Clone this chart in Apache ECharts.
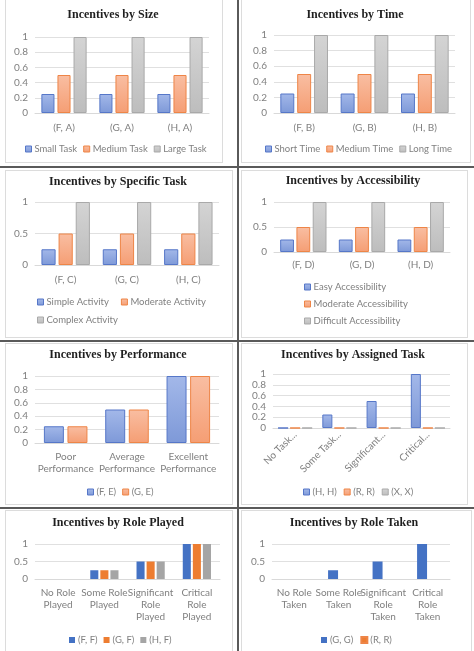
<!DOCTYPE html>
<html><head><meta charset="utf-8">
<script src="https://cdn.jsdelivr.net/npm/echarts@6/dist/echarts.min.js"></script>
<style>
html,body{margin:0;padding:0;background:#fff;overflow:hidden;}
#chart{position:absolute;left:0;top:0;width:474px;height:651px;}
.line{position:absolute;background:#5a5a5a;pointer-events:none;}
.box{position:absolute;border:1px solid #dcdcdc;pointer-events:none;box-sizing:border-box;}
</style></head><body>
<div class="box" style="left:5px;top:-2px;width:218px;height:165px"></div>
<div class="box" style="left:241px;top:-2px;width:230px;height:165px"></div>
<div class="box" style="left:5px;top:170px;width:228px;height:168px"></div>
<div class="box" style="left:241px;top:170px;width:227px;height:168px"></div>
<div class="box" style="left:5px;top:343px;width:228px;height:162px"></div>
<div class="box" style="left:241px;top:343px;width:227px;height:162px"></div>
<div class="box" style="left:5px;top:510px;width:228px;height:145px"></div>
<div class="box" style="left:241px;top:510px;width:231px;height:145px"></div>
<div id="chart"></div>
<div class="line" style="left:237px;top:0;width:1.5px;height:651px"></div>
<div class="line" style="left:0;top:166px;width:474px;height:1.5px"></div>
<div class="line" style="left:0;top:340px;width:474px;height:1.5px"></div>
<div class="line" style="left:0;top:507px;width:474px;height:1.5px"></div>
<script>
// ---- data ----
const sizeCategories = ['(F, A)', '(G, A)', '(H, A)'];
const sizeSmallTask = [0.25, 0.25, 0.25];
const sizeMediumTask = [0.5, 0.5, 0.5];
const sizeLargeTask = [1, 1, 1];

const timeCategories = ['(F, B)', '(G, B)', '(H, B)'];
const timeShort = [0.25, 0.25, 0.25];
const timeMedium = [0.5, 0.5, 0.5];
const timeLong = [1, 1, 1];

const taskCategories = ['(F, C)', '(G, C)', '(H, C)'];
const taskSimple = [0.25, 0.25, 0.25];
const taskModerate = [0.5, 0.5, 0.5];
const taskComplex = [1, 1, 1];

const accessCategories = ['(F, D)', '(G, D)', '(H, D)'];
const accessEasy = [0.25, 0.25, 0.25];
const accessModerate = [0.5, 0.5, 0.5];
const accessDifficult = [1, 1, 1];

const perfCategories = ['Poor\nPerformance', 'Average\nPerformance', 'Excellent\nPerformance'];
const perfFE = [0.25, 0.5, 1];
const perfGE = [0.25, 0.5, 1];

const assignCategories = ['No Task...', 'Some Task...', 'Significant...', 'Critical...'];
const assignHH = [0, 0.25, 0.5, 1];
const assignRR = [0, 0, 0, 0];
const assignXX = [0, 0, 0, 0];

const playedCategories = ['No Role\nPlayed', 'Some Role\nPlayed', 'Significant\nRole\nPlayed', 'Critical\nRole\nPlayed'];
const playedFF = [0, 0.25, 0.5, 1];
const playedGF = [0, 0.25, 0.5, 1];
const playedHF = [0, 0.25, 0.5, 1];

const takenCategories = ['No Role\nTaken', 'Some Role\nTaken', 'Significant\nRole\nTaken', 'Critical\nRole\nTaken'];
const takenGG = [0, 0.25, 0.5, 1];
const takenRR = [0, 0, 0, 0];

const titles = ['Incentives by Size', 'Incentives by Time', 'Incentives by Specific Task', 'Incentives by Accessibility',
  'Incentives by Performance', 'Incentives by Assigned Task', 'Incentives by Role Played', 'Incentives by Role Taken'];

// ---- styles ----
function grad(a, b) {
  return { type: 'linear', x: 0, y: 0, x2: 0, y2: 1, colorStops: [{ offset: 0, color: a }, { offset: 1, color: b }] };
}
const G_BLUE = { color: grad('#a3b8e9', '#7e99d8'), borderColor: '#5677c8', borderWidth: 1 };
const G_ORANGE = { color: grad('#f9bea2', '#f59e74'), borderColor: '#ee8547', borderWidth: 1 };
const G_GRAY = { color: grad('#d4d4d4', '#bdbdbd'), borderColor: '#a9a9a9', borderWidth: 1 };
const S_BLUE = { color: '#4472C4' };
const S_ORANGE = { color: '#ED7D31' };
const S_GRAY = { color: '#A5A5A5' };

const FONT = 'Lato';
const LABEL_COLOR = '#808080';

const panels = [
  { cats: sizeCategories, grid: [35, 37, 174, 76], interval: 0.2, title: [113, 9], margin: 9, gapC: '22%', gap: '23%',
    series: [['Small Task', sizeSmallTask, G_BLUE], ['Medium Task', sizeMediumTask, G_ORANGE], ['Large Task', sizeLargeTask, G_GRAY]] },
  { cats: timeCategories, grid: [274, 35, 181, 78], interval: 0.2, title: [355, 9], margin: 9, gapC: '21%', gap: '21%',
    series: [['Short Time', timeShort, G_BLUE], ['Medium Time', timeMedium, G_ORANGE], ['Long Time', timeLong, G_GRAY]] },
  { cats: taskCategories, grid: [35, 202, 184, 63], interval: 0.5, title: [118, 176], margin: 9, gapC: '21%', gap: '21%',
    series: [['Simple Activity', taskSimple, G_BLUE], ['Moderate Activity', taskModerate, G_ORANGE], ['Complex Activity', taskComplex, G_GRAY]] },
  { cats: accessCategories, grid: [274, 202, 176, 50], interval: 0.5, title: [353, 175], margin: 7, gapC: '21%', gap: '18%',
    series: [['Easy Accessibility', accessEasy, G_BLUE], ['Moderate Accessibility', accessModerate, G_ORANGE], ['Difficult Accessibility', accessDifficult, G_GRAY]] },
  { cats: perfCategories, grid: [35, 376, 184, 67], interval: 0.2, title: [118, 349], margin: 8, gapC: '29%', gap: '18%',
    series: [['(F, E)', perfFE, G_BLUE], ['(G, E)', perfGE, G_ORANGE]] },
  { cats: assignCategories, grid: [273, 374, 177, 54], interval: 0.2, title: [353, 349], margin: 5, gapC: '23%', gap: '20%', rotate: 45,
    series: [['(H, H)', assignHH, G_BLUE], ['(R, R)', assignRR, G_ORANGE], ['(X, X)', assignXX, G_GRAY]] },
  { cats: playedCategories, grid: [35, 544, 185, 35], interval: 0.5, title: [118, 517], margin: 8, gapC: '39%', gap: '25%',
    series: [['(F, F)', playedFF, S_BLUE], ['(G, F)', playedGF, S_ORANGE], ['(H, F)', playedHF, S_GRAY]] },
  { cats: takenCategories, grid: [272, 544, 178, 35], interval: 0.5, title: [354, 517], margin: 8, gapC: '52%', gap: '14%',
    series: [['(G, G)', takenGG, S_BLUE], ['(R, R)', takenRR, S_ORANGE]] }
];

const legendText = { fontFamily: FONT, fontSize: 9.5, color: LABEL_COLOR, padding: [0, 0, 0, -2] };
function legendFor(names, styles, left, top, orient, gap) {
  return {
    left: left, top: top, orient: orient || 'horizontal', padding: 0, itemGap: gap,
    itemWidth: 6, itemHeight: 6, icon: 'rect', selectedMode: false, textStyle: legendText,
    data: names.map((n, i) => ({ name: n, itemStyle: styles[i] }))
  };
}

const option = { animation: false, title: [], grid: [], xAxis: [], yAxis: [], series: [], legend: [] };

panels.forEach((p, i) => {
  option.title.push({
    text: titles[i], left: p.title[0], top: p.title[1], textAlign: 'center', padding: 0,
    textStyle: { fontFamily: 'Liberation Serif', fontWeight: 'bold', fontSize: 12, color: '#1f1f1f' }
  });
  option.grid.push({ left: p.grid[0], top: p.grid[1], width: p.grid[2], height: p.grid[3], containLabel: false });
  option.xAxis.push({
    type: 'category', gridIndex: i, data: p.cats,
    axisLine: { lineStyle: { color: '#d9d9d9' } }, axisTick: { show: false },
    axisLabel: { color: LABEL_COLOR, fontFamily: FONT, fontSize: 10, lineHeight: 12, margin: p.margin,
      rotate: p.rotate || 0, interval: 0 }
  });
  option.yAxis.push({
    type: 'value', gridIndex: i, min: 0, max: 1, interval: p.interval,
    axisLine: { show: false }, axisTick: { show: false },
    splitLine: { lineStyle: { color: '#e0e0e0', width: 1 } },
    axisLabel: { color: LABEL_COLOR, fontFamily: FONT, fontSize: 10, margin: 7 }
  });
  p.series.forEach(s => {
    option.series.push({
      type: 'bar', name: s[0], data: s[1], xAxisIndex: i, yAxisIndex: i,
      barGap: p.gap, barCategoryGap: p.gapC, itemStyle: s[2], emphasis: { disabled: true }
    });
  });
});

const L = (i) => panels[i].series.map(s => s[0]);
const St = (i) => panels[i].series.map(s => s[2]);
option.legend.push(legendFor(L(0), St(0), 25, 144, 'horizontal', 6));
option.legend.push(legendFor(L(1), St(1), 265, 144, 'horizontal', 6));
option.legend.push(legendFor(L(2).slice(0, 2), St(2).slice(0, 2), 37, 297, 'horizontal', 12));
option.legend.push(legendFor(L(2).slice(2), St(2).slice(2), 37, 315, 'horizontal', 6));
option.legend.push(legendFor(L(3), St(3), 304, 282, 'vertical', 7));
option.legend.push(legendFor(L(4), St(4), 87, 487, 'horizontal', 6));
option.legend.push(legendFor(L(5), St(5), 303, 487, 'horizontal', 7));
option.legend.push(legendFor(L(6), St(6), 69, 635, 'horizontal', 6));
option.legend.push(legendFor(L(7), St(7), 321, 635, 'horizontal', 7));

const chart = echarts.init(document.getElementById('chart'), null, { renderer: 'canvas' });
chart.setOption(option);
</script>
</body></html>
